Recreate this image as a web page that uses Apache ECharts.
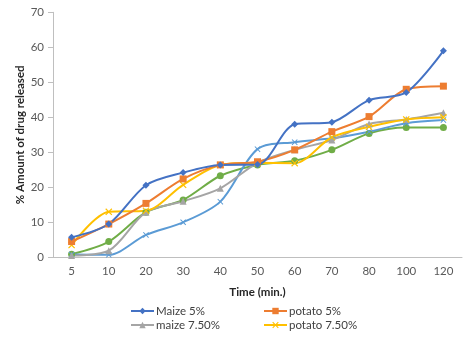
<!DOCTYPE html>
<html>
<head>
<meta charset="utf-8">
<script src="https://cdn.jsdelivr.net/npm/echarts@6/dist/echarts.min.js"></script>
<style>
  html, body { margin: 0; padding: 0; background: #fff; }
  #chart { width: 474px; height: 339px; }
</style>
</head>
<body>
<div id="chart"></div>
<script>
// Time points (min.) on the category axis
const times = ['5', '10', '20', '30', '40', '50', '60', '70', '80', '100', '120'];
const yTicks = [0, 10, 20, 30, 40, 50, 60, 70];

// % of drug released per formulation
const maize5 = [5.7, 9.5, 20.6, 24.2, 26.4, 26.5, 38.0, 38.6, 44.9, 47.1, 59.0];
const potato5 = [4.5, 9.5, 15.4, 22.4, 26.4, 27.3, 30.7, 35.9, 40.2, 48.0, 48.9];
const maize75 = [0.5, 1.9, 12.9, 16.0, 19.7, 27.0, 30.7, 33.5, 38.1, 39.4, 41.3];
const potato75 = [3.5, 13.0, 13.3, 20.7, 26.4, 27.0, 26.9, 34.3, 37.3, 39.4, 40.0];
const maize10 = [0.9, 4.5, 12.9, 16.4, 23.3, 26.4, 27.6, 30.7, 35.4, 37.1, 37.1];
const potato10 = [0.8, 0.7, 6.4, 10.0, 15.9, 30.9, 32.9, 34.0, 35.9, 38.3, 39.2];

const xMark = 'path://M0,1.2L1.2,0L5,3.8L8.8,0L10,1.2L6.2,5L10,8.8L8.8,10L5,6.2L1.2,10L0,8.8L3.8,5Z';
const font = 'Lato, Open Sans, sans-serif';

function line(name, data, color, symbol, size) {
  return {
    name: name,
    type: 'line',
    data: data,
    smooth: 0.3,
    symbol: symbol,
    symbolSize: size,
    showSymbol: true,
    lineStyle: { color: color, width: 2 },
    itemStyle: { color: color },
    emphasis: { disabled: true }
  };
}

// one legend box per entry, laid out in two columns
function legendItem(name, left, top) {
  return {
    left: left, top: top, padding: 0,
    itemWidth: 23, itemHeight: 8, itemGap: 0,
    data: [name],
    textStyle: { fontSize: 11.5, color: '#404040', fontFamily: font, padding: [0, 0, 0, -3] }
  };
}

const chart = echarts.init(document.getElementById('chart'), null, { renderer: 'canvas' });
chart.setOption({
  animation: false,
  textStyle: { fontFamily: font },
  grid: { left: 53, right: 12, top: 12.3, bottom: 81.7 },
  legend: [
    legendItem('Maize 5%', 130, 305),
    legendItem('maize 7.50%', 130, 319),
    legendItem('potato 5%', 263, 305),
    legendItem('potato 7.50%', 263, 319)
  ],
  xAxis: {
    type: 'category',
    data: times,
    boundaryGap: true,
    name: 'Time (min.)',
    nameLocation: 'middle',
    nameGap: 29,
    nameMoveOverlap: false,
    nameTextStyle: { fontSize: 11.5, fontWeight: 'bold', color: '#262626', fontFamily: font },
    axisLine: { lineStyle: { color: '#BFBFBF', width: 1 } },
    axisTick: { length: 5, lineStyle: { color: '#BFBFBF' } },
    axisLabel: { fontSize: 11.5, color: '#595959', margin: 8 },
    splitLine: { show: false }
  },
  yAxis: {
    type: 'value',
    min: yTicks[0],
    max: yTicks[yTicks.length - 1],
    interval: 10,
    name: '% Amount of drug released',
    nameLocation: 'middle',
    nameGap: 27,
    nameMoveOverlap: false,
    nameRotate: 90,
    nameTextStyle: { fontSize: 11.5, fontWeight: 'bold', color: '#262626', fontFamily: font },
    axisLine: { show: true, lineStyle: { color: '#BFBFBF', width: 1 } },
    axisTick: { show: true, length: 5, lineStyle: { color: '#BFBFBF' } },
    axisLabel: { fontSize: 11.5, color: '#595959', margin: 9 },
    splitLine: { show: false }
  },
  series: [
    line('maize 10%', maize10, '#70AD47', 'circle', 7),
    line('potato 10%', potato10, '#5B9BD5', xMark, 6),
    line('maize 7.50%', maize75, '#A5A5A5', 'triangle', 7),
    line('potato 7.50%', potato75, '#FFC000', xMark, 7),
    line('potato 5%', potato5, '#ED7D31', 'rect', 7),
    line('Maize 5%', maize5, '#4472C4', 'diamond', 7)
  ]
});
</script>
</body>
</html>
